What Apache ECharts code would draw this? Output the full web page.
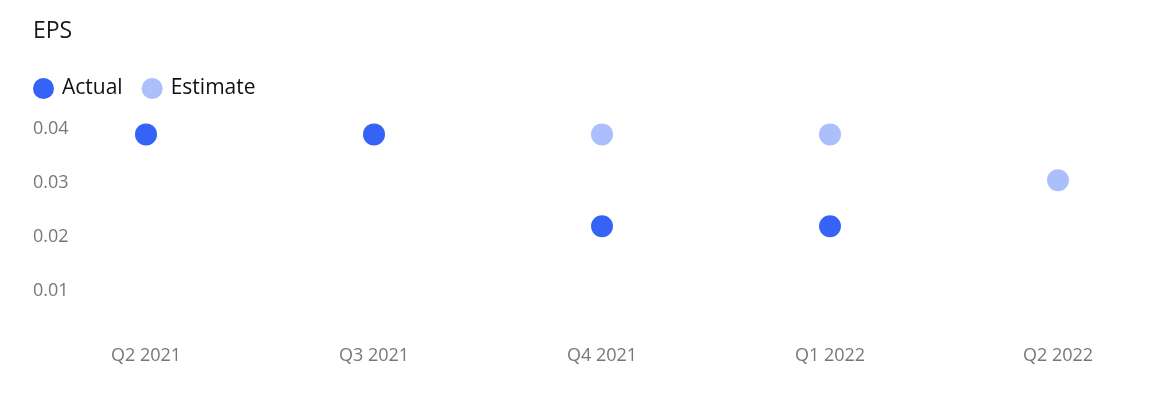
<!DOCTYPE html>
<html>
<head>
<meta charset="utf-8">
<script src="https://cdn.jsdelivr.net/npm/echarts@6/dist/echarts.min.js"></script>
<style>
html,body{margin:0;padding:0;background:#fff;}
#chart{width:1150px;height:400px;}
</style>
</head>
<body>
<div id="chart"></div>
<script>
const categories = ['Q2 2021', 'Q3 2021', 'Q4 2021', 'Q1 2022', 'Q2 2022'];
const actualValues = [0.039, 0.039, 0.022, 0.022, null];
const estimateValues = [null, null, 0.039, 0.039, 0.0305];
const yTicks = [0.01, 0.02, 0.03, 0.04];

const chart = echarts.init(document.getElementById('chart'));
const font = '"Open Sans", "Noto Sans", sans-serif';
chart.setOption({
  animation: false,
  textStyle: { fontFamily: font },
  title: {
    text: 'EPS',
    left: 28, top: 15,
    textStyle: { fontSize: 23, fontWeight: 500, color: '#1a1a1a', fontFamily: font }
  },
  legend: {
    left: 28, top: 73,
    icon: 'circle',
    itemWidth: 21, itemHeight: 21,
    itemGap: 19,
    textStyle: { fontSize: 21, color: '#111', fontFamily: font, padding: [0,0,0,3] },
    data: ['Actual', 'Estimate']
  },
  grid: { left: 146, right: 92, top: 129, bottom: 55 },
  xAxis: {
    type: 'category',
    data: categories,
    boundaryGap: false,
    axisLine: { show: false },
    axisTick: { show: false },
    axisLabel: { color: '#777', fontSize: 18, margin: 2, fontFamily: font }
  },
  yAxis: {
    type: 'value',
    min: 0, max: 0.04, interval: 0.01,
    splitLine: { show: false },
    axisLine: { show: false },
    axisTick: { show: false },
    axisLabel: {
      color: '#777', fontSize: 18, align: 'left', margin: 113, fontFamily: font,
      formatter: function (v) { return yTicks.indexOf(Math.round(v*100)/100) >= 0 ? v.toFixed(2) : ''; }
    }
  },
  series: [
    { name: 'Actual', type: 'scatter', data: actualValues, symbolSize: 22,
      itemStyle: { color: '#3563f6', opacity: 1 } },
    { name: 'Estimate', type: 'scatter', data: estimateValues, symbolSize: 22,
      itemStyle: { color: '#abbffc', opacity: 1 } }
  ]
});
</script>
</body>
</html>
